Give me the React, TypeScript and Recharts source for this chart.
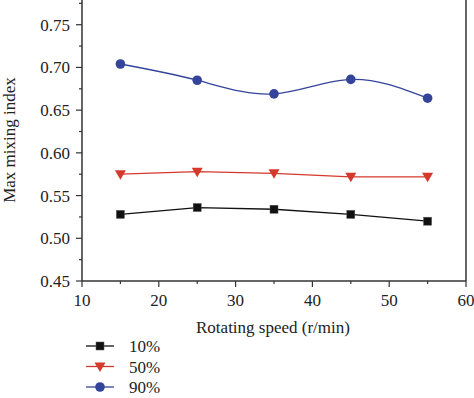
import React from "react";
import {
  LineChart,
  Line,
  XAxis,
  YAxis,
  Legend,
  ReferenceLine,
} from "recharts";

const speeds = [15, 25, 35, 45, 55];
const fill10 = [0.528, 0.536, 0.534, 0.528, 0.52];
const fill50 = [0.575, 0.578, 0.576, 0.572, 0.572];
const fill90 = [0.704, 0.685, 0.669, 0.686, 0.664];

const seriesNames = ["10%", "50%", "90%"];

const xMajor = [10, 20, 30, 40, 50, 60];
const xMinor = [15, 25, 35, 45, 55];
const yMajor = [0.45, 0.5, 0.55, 0.6, 0.65, 0.7, 0.75];
const yMinor = [0.475, 0.525, 0.575, 0.625, 0.675, 0.725, 0.775];

const FONT = "'Liberation Serif', 'Times New Roman', serif";
const AXIS = "#333";
const BLACK = "#111";
const RED = "#d4392c";
const BLUE = "#34449a";

const data = speeds.map((s, i) => ({
  speed: s,
  f10: fill10[i],
  f50: fill50[i],
  f90: fill90[i],
}));

function Square({ cx, cy, color }: any) {
  return <rect x={cx - 4} y={cy - 4} width={8} height={8} fill={color} stroke="#555" strokeWidth={0.5} />;
}
function TriDown({ cx, cy, color }: any) {
  return (
    <polygon
      points={`${cx - 5.5},${cy - 4} ${cx + 5.5},${cy - 4} ${cx},${cy + 5.5}`}
      fill={color}
    />
  );
}
function Dot({ cx, cy, color }: any) {
  return <circle cx={cx} cy={cy} r={4.8} fill={color} />;
}

const markers = [Square, TriDown, Dot];
const colors = [BLACK, RED, BLUE];

function XTick({ x, y, payload }: any) {
  const major = xMajor.includes(payload.value);
  return (
    <g>
      <line x1={x} x2={x} y1={y} y2={y + (major ? 6 : 3)} stroke={AXIS} strokeWidth={1.2} />
      {major && (
        <text x={x} y={y + 25} textAnchor="middle" fontFamily={FONT} fontSize={17} fill="#222">
          {payload.value}
        </text>
      )}
    </g>
  );
}

function YTick({ x, y, payload }: any) {
  const major = yMajor.includes(payload.value);
  return (
    <g>
      <line x1={x - (major ? 6 : 3)} x2={x} y1={y} y2={y} stroke={AXIS} strokeWidth={1.2} />
      {major && (
        <text x={x - 12} y={y + 6} textAnchor="end" fontFamily={FONT} fontSize={17} fill="#222">
          {payload.value.toFixed(2)}
        </text>
      )}
    </g>
  );
}

function renderLegend() {
  return (
    <svg width={120} height={70}>
      {seriesNames.map((name, i) => {
        const y = 10 + i * 20.5;
        const M = markers[i];
        return (
          <g key={name}>
            <line x1={2} x2={30} y1={y} y2={y} stroke={colors[i]} strokeWidth={1.3} />
            <M cx={16} cy={y} color={colors[i]} />
            <text x={45} y={y + 6} fontFamily={FONT} fontSize={17} fill="#222">
              {name}
            </text>
          </g>
        );
      })}
    </svg>
  );
}

export default function App() {
  const xTicks = [...xMajor, ...xMinor].sort((a, b) => a - b);
  const yTicks = [...yMajor, ...yMinor].sort((a, b) => a - b);
  return (
    <div style={{ position: "absolute", left: 0, top: -18, width: 474, height: 416, background: "#fff" }}>
      <LineChart
        width={474}
        height={416}
        data={data}
        margin={{ top: 0, right: 8, left: 0, bottom: 57 }}
      >
        <XAxis
          dataKey="speed"
          type="number"
          domain={[10, 60]}
          ticks={xTicks}
          interval={0}
          tickSize={0}
          tickMargin={0}
          tickLine={false}
          axisLine={{ stroke: AXIS, strokeWidth: 1.5 }}
          tick={<XTick />}
          height={60}
          label={{
            content: () => (
              <text x={273} y={351} textAnchor="middle" fontFamily={FONT} fontSize={17} fill="#222">
                Rotating speed (r/min)
              </text>
            ),
          }}
        />
        <YAxis
          type="number"
          domain={[0.45, 0.8]}
          ticks={yTicks}
          interval={0}
          tickSize={0}
          tickMargin={0}
          tickLine={false}
          axisLine={{ stroke: AXIS, strokeWidth: 1.5 }}
          tick={<YTick />}
          width={82}
          allowDataOverflow
          label={{
            content: () => (
              <text
                x={15}
                y={158}
                transform="rotate(-90 15 158)"
                textAnchor="middle"
                fontFamily={FONT}
                fontSize={17}
                fill="#222"
              >
                Max mixing index
              </text>
            ),
          }}
        />
        <ReferenceLine x={60} stroke={AXIS} strokeWidth={1.5} />
        <Line
          dataKey="f10"
          name={seriesNames[0]}
          type="linear"
          stroke={BLACK}
          strokeWidth={1.3}
          dot={(p: any) => <Square key={p.index} cx={p.cx} cy={p.cy} color={BLACK} />}
          isAnimationActive={false}
        />
        <Line
          dataKey="f50"
          name={seriesNames[1]}
          type="linear"
          stroke={RED}
          strokeWidth={1.3}
          dot={(p: any) => <TriDown key={p.index} cx={p.cx} cy={p.cy} color={RED} />}
          isAnimationActive={false}
        />
        <Line
          dataKey="f90"
          name={seriesNames[2]}
          type="natural"
          stroke={BLUE}
          strokeWidth={1.3}
          dot={(p: any) => <Dot key={p.index} cx={p.cx} cy={p.cy} color={BLUE} />}
          isAnimationActive={false}
        />
        <Legend
          layout="vertical"
          align="center"
          verticalAlign="middle"
          content={renderLegend}
          wrapperStyle={{ left: 84, top: 354, width: 120, height: 70 }}
        />
      </LineChart>
    </div>
  );
}
